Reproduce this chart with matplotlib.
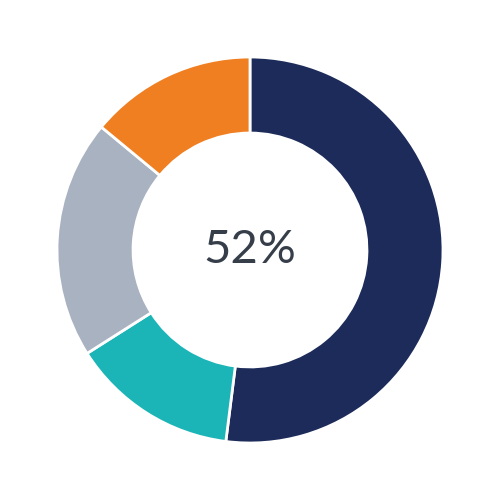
import matplotlib
matplotlib.use("Agg")
import matplotlib.pyplot as plt

# share of each segment, clockwise from the top
labels = ["Navy", "Teal", "Gray", "Orange"]
values = [52, 14, 20, 14]
colors = ["#1c2b5a", "#1bb5b8", "#a8b2c1", "#f07f22"]
center_text = "52%"

fig = plt.figure(figsize=(5, 5), dpi=100)
ax = fig.add_axes([0, 0, 1, 1])

ax.pie(values, colors=colors, startangle=90, counterclock=False, radius=1.0,
       wedgeprops={"width": 0.394, "edgecolor": "white", "linewidth": 2})

ax.text(0, 0, center_text, ha="center", va="center", fontsize=34,
        family=["Lato", "DejaVu Sans"], fontweight="normal", color="#363e4a")

lim = 250 / 193
ax.set_xlim(-lim, lim)
ax.set_ylim(-lim, lim)
ax.set_aspect("equal")
ax.axis("off")

fig.savefig("out.png", dpi=100, facecolor="white")
